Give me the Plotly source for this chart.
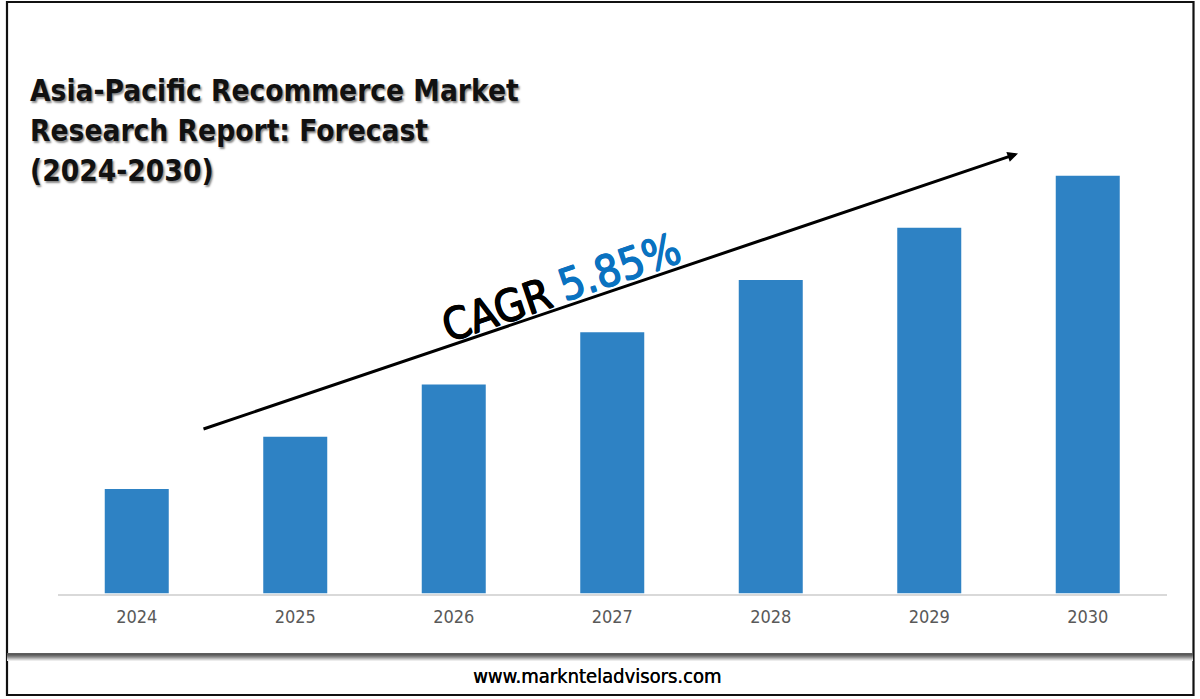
import plotly.graph_objects as go

years = ["2024", "2025", "2026", "2027", "2028", "2029", "2030"]
values = [1.0, 1.5, 2.0, 2.5, 3.0, 3.5, 4.0]
title_lines = ["Asia-Pacific Recommerce Market", "Research Report: Forecast", "(2024-2030)"]
cagr_label = "CAGR"
cagr_value = "5.85%"
footer = "www.marknteladvisors.com"

W, H = 1200, 699
def px(x): return x / W
def py(y): return 1 - y / H

fig = go.Figure(go.Bar(x=years, y=values, marker=dict(color="#2E82C4", line=dict(width=0))))

shapes = []
shapes.append(dict(type="rect", xref="paper", yref="paper", x0=px(7), x1=px(1193.5), y0=py(695), y1=py(2),
                   line=dict(color="#111111", width=2.2), fillcolor="rgba(0,0,0,0)", layer="below"))
band = [(653.5, "#5e5e5e"), (654.5, "#5a5a5a"), (655.5, "#6a6a6a"), (656.5, "#808080"),
        (657.5, "#9a9a9a"), (658.5, "#b8b8b8"), (659.5, "#d4d4d4"), (660.5, "#ececec")]
for y, c in band:
    shapes.append(dict(type="line", xref="paper", yref="paper", x0=px(7), x1=px(1193), y0=py(y), y1=py(y),
                       line=dict(color=c, width=1.2), layer="below"))

COND = "DejaVu Sans Condensed"
def heavy(c):
    return f"1px 0 0 {c}, 0 1px 0 {c}, 1px 1px 0 {c}"

annotations = [
    dict(text=line, xref="paper", yref="paper", x=px(28), y=py(91 + 40 * i), xanchor="left", yanchor="middle",
         showarrow=False, align="left",
         font=dict(family=COND, size=29.6, color="#111111", weight=700,
                   shadow="1.5px 1.5px 2px #8a8a8a"))
    for i, line in enumerate(title_lines)
]
annotations += [
    dict(text=cagr_label, xref="paper", yref="paper",
         x=px(496), y=py(309), xanchor="center", yanchor="middle", showarrow=False, textangle=-18.7,
         font=dict(family=COND, size=44, color="#000000", weight=400, shadow=heavy("#000000"))),
    dict(text=cagr_value, xref="paper", yref="paper",
         x=px(619), y=py(267), xanchor="center", yanchor="middle", showarrow=False, textangle=-18.7,
         font=dict(family=COND, size=44, color="#0A72C0", weight=400, shadow=heavy("#0A72C0"))),
    dict(text=footer, xref="paper", yref="paper", x=px(597), y=py(675.5), xanchor="center", yanchor="middle",
         showarrow=False, font=dict(family=COND, size=20, color="#000000", weight=400,
                                    shadow="0.4px 0 0 #000000")),
    dict(text="", xref="paper", yref="paper", x=px(1018), y=py(153.5), axref="pixel", ayref="pixel",
         ax=-816, ay=276, showarrow=True, arrowhead=2, arrowsize=0.7, arrowwidth=3, arrowcolor="#000000",
         standoff=0, startstandoff=0),
]

fig.update_layout(
    width=W, height=H, autosize=False,
    margin=dict(l=0, r=0, t=0, b=0),
    paper_bgcolor="white", plot_bgcolor="white",
    showlegend=False,
    shapes=shapes, annotations=annotations,
    font=dict(family=COND),
    xaxis=dict(domain=[px(57.5), px(1167)], type="category", showgrid=False, showline=True,
               linecolor="#D9D9D9", linewidth=1.5, ticks="", ticklabelstandoff=6,
               tickfont=dict(family=COND, size=18, color="#595959")),
    yaxis=dict(domain=[py(593.5), py(175.5)], range=[0, 4.0], visible=False, showgrid=False),
)
fig.update_traces(width=64 / 158.5)

fig.write_html("out.html", config=dict(displayModeBar=False),
               post_script="document.body.style.margin='0';document.documentElement.style.overflow='hidden';")
